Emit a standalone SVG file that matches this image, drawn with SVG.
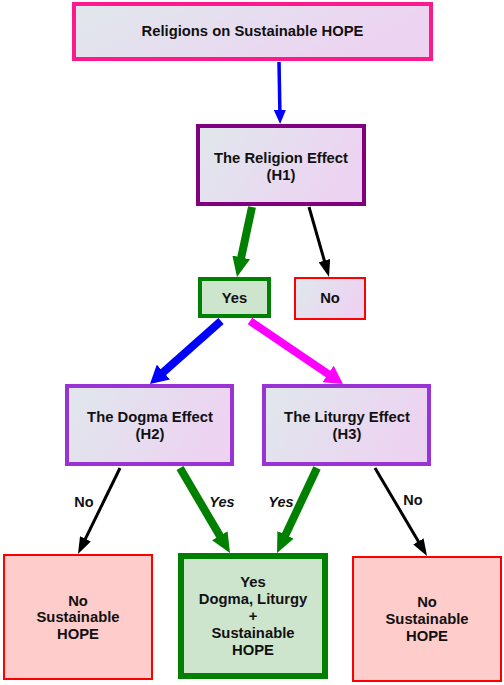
<svg xmlns="http://www.w3.org/2000/svg" width="504" height="685" viewBox="0 0 504 685">
<defs>
<linearGradient id="g" x1="0" y1="0" x2="1" y2="0.3">
<stop offset="0" stop-color="#DFE8EC"/>
<stop offset="1" stop-color="#EDD3F2"/>
</linearGradient>
<marker id="mBlueS" markerUnits="userSpaceOnUse" markerWidth="14" markerHeight="12" refX="7" refY="6" orient="auto"><path d="M0,0 L14,6 L0,12 z" fill="#0000FF"/></marker>
<marker id="mBlackS" markerUnits="userSpaceOnUse" markerWidth="17" markerHeight="12" refX="8.5" refY="6" orient="auto"><path d="M0,0 L17,6 L0,12 z" fill="#000"/></marker>
<marker id="mGreenL" markerUnits="userSpaceOnUse" markerWidth="20" markerHeight="18" refX="10" refY="9" orient="auto"><path d="M0,0 L20,9 L0,18 z" fill="#008000"/></marker>
<marker id="mBlueL" markerUnits="userSpaceOnUse" markerWidth="18" markerHeight="20" refX="9" refY="10" orient="auto"><path d="M0,0 L18,10 L0,20 z" fill="#0000FF"/></marker>
<marker id="mMagL" markerUnits="userSpaceOnUse" markerWidth="18" markerHeight="20" refX="9" refY="10" orient="auto"><path d="M0,0 L18,10 L0,20 z" fill="#FF00FF"/></marker>
</defs>
<style>
text{font-family:"Liberation Sans",Arial,sans-serif;font-weight:bold;font-size:14.8px;fill:#111;text-anchor:middle}
.lbl{font-size:14.5px}
.it{font-style:italic}
.grad{fill:url(#g)}
.pink{fill:#FFCCCC;stroke:#FF0000;stroke-width:2}
.greenbox{fill:#CDE5CD;stroke:#008000}
.purple{stroke:#9933D6;stroke-width:4}
line{fill:none}
</style>
<g id="connectors">
<line x1="279" y1="62" x2="280" y2="117" stroke="#0000FF" stroke-width="3.5" marker-end="url(#mBlueS)"/>
<line x1="252" y1="207" x2="239.1" y2="267.2" stroke="#008000" stroke-width="8" marker-end="url(#mGreenL)"/>
<line x1="309" y1="207" x2="326.7" y2="268.8" stroke="#000" stroke-width="3" marker-end="url(#mBlackS)"/>
<line x1="221" y1="321" x2="156.7" y2="378" stroke="#0000FF" stroke-width="8" marker-end="url(#mBlueL)"/>
<line x1="250" y1="321" x2="335.5" y2="379" stroke="#FF00FF" stroke-width="8" marker-end="url(#mMagL)"/>
<line x1="120" y1="468" x2="81.7" y2="546.4" stroke="#000" stroke-width="3" marker-end="url(#mBlackS)"/>
<line x1="180" y1="468" x2="224.9" y2="544.4" stroke="#008000" stroke-width="8" marker-end="url(#mGreenL)"/>
<line x1="317" y1="468" x2="281.3" y2="543.9" stroke="#008000" stroke-width="8" marker-end="url(#mGreenL)"/>
<line x1="375" y1="468" x2="422.7" y2="548.7" stroke="#000" stroke-width="3" marker-end="url(#mBlackS)"/>
<text class="lbl" x="84" y="507">No</text>
<text class="lbl it" x="222" y="507">Yes</text>
<text class="lbl it" x="281" y="507">Yes</text>
<text class="lbl" x="413" y="505">No</text>
</g>
<g id="top">
<rect x="74" y="4" width="357" height="55" class="grad" stroke="#FF1A8C" stroke-width="4"/>
<text x="252.5" y="36">Religions on Sustainable HOPE</text>
</g>
<g id="h1">
<rect x="198" y="126" width="166" height="78" class="grad" stroke="#800080" stroke-width="4"/>
<text x="281" y="163">The Religion Effect</text>
<text x="281" y="180">(H1)</text>
</g>
<g id="yes">
<rect x="200" y="279" width="69" height="37" class="greenbox" stroke-width="4"/>
<text x="234.5" y="303">Yes</text>
</g>
<g id="no">
<rect x="295" y="278" width="70" height="41" class="grad" stroke="#FF0000" stroke-width="2"/>
<text x="330" y="303">No</text>
</g>
<g id="h2">
<rect x="67" y="386" width="165" height="78" class="grad purple"/>
<text x="150" y="422">The Dogma Effect</text>
<text x="150" y="439">(H2)</text>
</g>
<g id="h3">
<rect x="264" y="386" width="165" height="78" class="grad purple"/>
<text x="347" y="422">The Liturgy Effect</text>
<text x="347" y="439">(H3)</text>
</g>
<g id="noHopeLeft">
<rect x="4" y="555" width="148" height="124" class="pink"/>
<text x="78" y="606">No</text>
<text x="78" y="622">Sustainable</text>
<text x="78" y="639">HOPE</text>
</g>
<g id="yesHope">
<rect x="181" y="556" width="144" height="120" class="greenbox" stroke-width="6"/>
<text x="253" y="587">Yes</text>
<text x="253" y="604">Dogma, Liturgy</text>
<text x="253" y="621">+</text>
<text x="253" y="638">Sustainable</text>
<text x="253" y="655">HOPE</text>
</g>
<g id="noHopeRight">
<rect x="353" y="557" width="148" height="124" class="pink"/>
<text x="427" y="607">No</text>
<text x="427" y="624">Sustainable</text>
<text x="427" y="641">HOPE</text>
</g>
</svg>
